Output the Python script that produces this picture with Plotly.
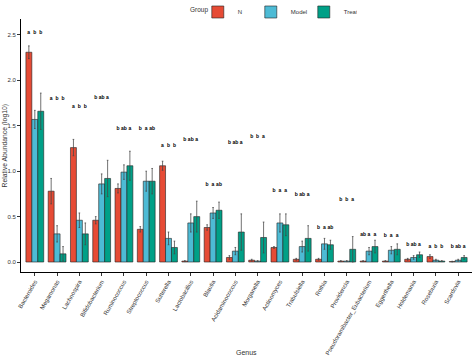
import plotly.graph_objects as go

genera = ["Bacteroides", "Megamonas", "Lachnospira", "Bifidobacterium", "Ruminococcus",
          "Streptococcus", "Sutterella", "Lactobacillus", "Blautia", "Acidaminococcus",
          "Morganella", "Actinomyces", "Trabulsiella", "Rothia", "Providencia",
          "Pseudoramibacter_Eubacterium", "Eggerthella", "Holdemania", "Roseburia", "Scardovia"]

groups = ["N", "Model", "Treat"]
colors = ["#E64B35", "#4DBBD5", "#00A087"]

mean_g1 = [2.31, 0.78, 1.26, 0.46, 0.81, 0.36, 1.06, 0.01, 0.38, 0.05,
           0.02, 0.16, 0.03, 0.03, 0.01, 0.01, 0.01, 0.03, 0.06, 0.005]
mean_g2 = [1.57, 0.31, 0.46, 0.86, 0.99, 0.89, 0.26, 0.43, 0.54, 0.12,
           0.01, 0.43, 0.17, 0.20, 0.01, 0.12, 0.13, 0.05, 0.02, 0.02]
mean_g3 = [1.66, 0.09, 0.31, 0.92, 1.06, 0.89, 0.16, 0.50, 0.57, 0.33,
           0.27, 0.41, 0.26, 0.19, 0.14, 0.17, 0.14, 0.08, 0.01, 0.05]

sd_g1 = [0.07, 0.14, 0.09, 0.04, 0.05, 0.03, 0.05, 0.005, 0.03, 0.02,
         0.01, 0.01, 0.01, 0.01, 0.005, 0.005, 0.005, 0.01, 0.02, 0.003]
sd_g2 = [0.10, 0.09, 0.08, 0.11, 0.08, 0.11, 0.07, 0.10, 0.06, 0.04,
         0.005, 0.10, 0.06, 0.06, 0.005, 0.04, 0.04, 0.02, 0.01, 0.01]
sd_g3 = [0.20, 0.08, 0.12, 0.20, 0.16, 0.14, 0.07, 0.17, 0.09, 0.20,
         0.17, 0.12, 0.14, 0.05, 0.14, 0.07, 0.06, 0.03, 0.005, 0.02]

letters_g1 = ["a", "a", "a", "b", "b", "b", "a", "b", "b", "b",
              "b", "b", "b", "b", "b", "ab", "b", "b", "a", "b"]
letters_g2 = ["b", "b", "b", "ab", "ab", "a", "b", "ab", "a", "ab",
              "b", "a", "ab", "a", "b", "a", "a", "ab", "b", "ab"]
letters_g3 = ["b", "b", "b", "a", "a", "ab", "b", "a", "ab", "a",
              "a", "a", "a", "ab", "a", "a", "a", "a", "b", "a"]

letter_height = [2.50, 1.77, 1.69, 1.78, 1.44, 1.44, 1.26, 1.32, 0.83, 1.29,
                 1.35, 0.76, 0.72, 0.35, 0.66, 0.28, 0.26, 0.17, 0.14, 0.14]

means = [mean_g1, mean_g2, mean_g3]
sds = [sd_g1, sd_g2, sd_g3]
letters = [letters_g1, letters_g2, letters_g3]

fig = go.Figure()
for i, g in enumerate(groups):
    fig.add_trace(go.Bar(
        x=genera, y=means[i], name=g, offsetgroup=str(i),
        marker=dict(color=colors[i], line=dict(color="#222222", width=0.6)),
        error_y=dict(type="data", array=sds[i], color="rgba(70,70,70,0.85)",
                     thickness=0.9, width=0.8),
    ))
# significance letters: transparent bars sharing each group's slot, text placed at bar top
for i, g in enumerate(groups):
    fig.add_trace(go.Bar(
        x=genera, y=letter_height, offsetgroup=str(i), showlegend=False,
        marker=dict(color="rgba(0,0,0,0)", line=dict(width=0)),
        text=letters[i], texttemplate="<b>%{text}</b>", textposition="outside",
        textangle=0, constraintext="none", cliponaxis=False,
        outsidetextfont=dict(size=5, color="#000000", family="Liberation Sans"),
        hoverinfo="skip",
    ))

fig.update_layout(
    width=474, height=364,
    margin=dict(l=21, r=2, t=19, b=92, autoexpand=False),
    paper_bgcolor="white", plot_bgcolor="white",
    barmode="group", bargap=0.2, bargroupgap=0,
    font=dict(family="Liberation Sans", size=7, color="#333333"),
    legend=dict(orientation="h", x=0.392, xanchor="left", y=1.0277, yanchor="middle",
                font=dict(size=6), itemwidth=30, tracegroupgap=0,
                entrywidth=8, entrywidthmode="pixels"),
    xaxis=dict(showline=True, linecolor="black", linewidth=0.8, ticks="outside",
               ticklen=3, tickcolor="#333333", tickangle=-60, automargin=False,
               tickfont=dict(size=6, color="#333333"),
               range=[-0.62, 19.62]),
    yaxis=dict(showline=True, linecolor="black", linewidth=0.8, ticks="outside",
               ticklen=3, tickcolor="#333333", showgrid=False, zeroline=False,
               automargin=False,
               tickvals=[0, 0.5, 1.0, 1.5, 2.0, 2.5],
               ticktext=["0.0", "0.5", "1.0", "1.5", "2.0", "2.5"],
               tickfont=dict(size=6, color="#333333"),
               range=[-0.11, 2.676]),
    annotations=[
        dict(text="Group", xref="paper", yref="paper", x=0.418, y=1.0356,
             xanchor="right", yanchor="middle", showarrow=False,
             font=dict(size=6.5, color="#333333")),
        dict(text="Genus", xref="paper", yref="paper", x=0.5, y=-0.32,
             xanchor="center", yanchor="middle", showarrow=False,
             font=dict(size=7, color="#333333")),
        dict(text="Relative Abundance (log10)", xref="paper", yref="paper",
             x=0, y=0.5, xanchor="right", yanchor="middle", xshift=-11,
             textangle=-90, showarrow=False,
             font=dict(size=6.8, color="#333333")),
    ],
)

fig.write_html("out.html", config={"displayModeBar": False},
               post_script="document.body.style.margin='0';")
